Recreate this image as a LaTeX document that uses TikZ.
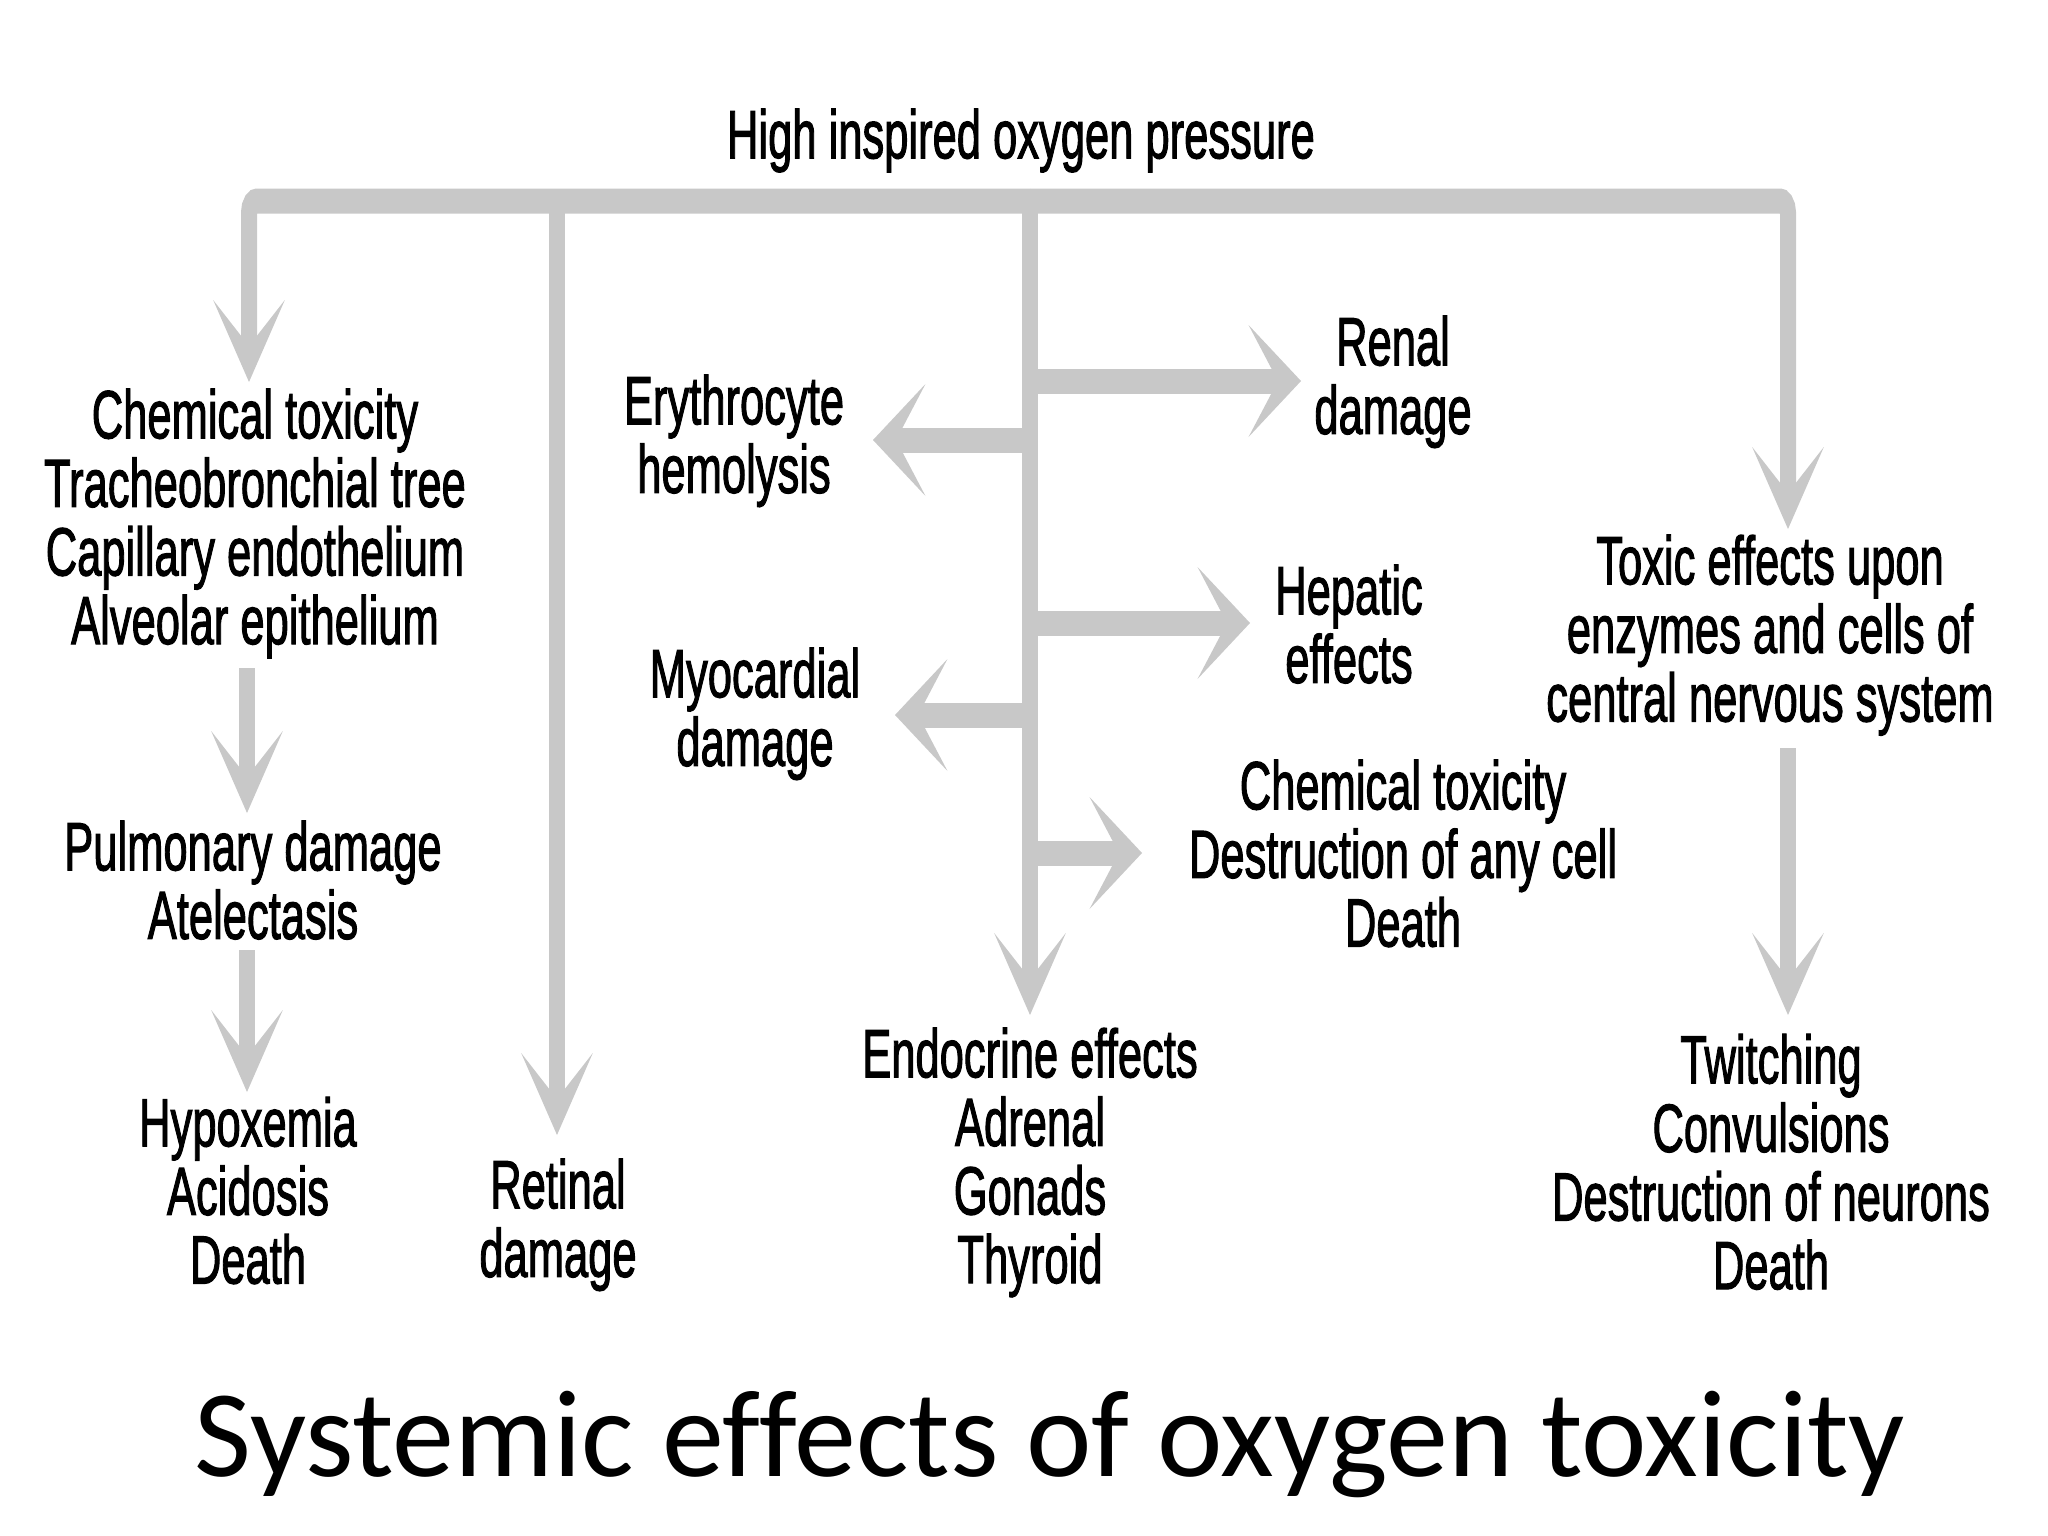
\documentclass[tikz,border=0pt]{standalone}
\usepackage{fontspec}
\usetikzlibrary{arrows.meta}
\newfontfamily\diagfont[FakeBold=2]{Liberation Sans}
\newfontfamily\capfont[Ligatures=NoCommon]{Carlito}
\definecolor{arrowgray}{RGB}{200,200,200}
\newcommand\mys{\rule{0pt}{52pt}}
\begin{document}
\begin{tikzpicture}[x=1pt,y=-1pt]
\useasboundingbox[fill=white] (0,0) rectangle (2048,1536);
\begin{scope}[x=1.5625pt, y=-1pt, transform canvas={xscale=0.64},
  conn/.style={draw=arrowgray, line width=25pt},
  tip/.style={-{Stealth[length=82pt,width=112pt,inset=46pt,line width=0pt]}},
  lbl/.style={anchor=north, inner sep=0pt, align=center, font=\diagfont\fontsize{68}{68.6}\selectfont}]
  % junctions and arrow ends
  \coordinate (jL) at (249,201);
  \coordinate (jR) at (1788,201);
  \coordinate (jRet) at (557,201);
  \coordinate (jC) at (1030,201);
  \coordinate (tA) at (249,382);
  \coordinate (tR) at (1788,529);
  \coordinate (tRet) at (557,1135);
  \coordinate (tC) at (1030,1015);
  \coordinate (bRen) at (1030,381);  \coordinate (tRen) at (1301,381);
  \coordinate (bEry) at (1030,440);  \coordinate (tEry) at (873,440);
  \coordinate (bHep) at (1030,623);  \coordinate (tHep) at (1250,623);
  \coordinate (bMyo) at (1030,715);  \coordinate (tMyo) at (895,715);
  \coordinate (bCell) at (1030,853); \coordinate (tCell) at (1142,853);
  \coordinate (sA) at (247,668);  \coordinate (tB) at (247,813);
  \coordinate (sB) at (247,950);  \coordinate (tC2) at (247,1092);
  \coordinate (sR) at (1788,748); \coordinate (tR2) at (1788,1015);
  % connectors
  \draw[conn, tip, rounded corners=12pt] (jC) -- (jL) -- (tA);
  \draw[conn, tip, rounded corners=12pt] (jC) -- (jR) -- (tR);
  \draw[conn, tip] (jRet) -- (tRet);
  \draw[conn, tip] (jC) -- (tC);
  \draw[conn, tip] (bRen) -- (tRen);
  \draw[conn, tip] (bEry) -- (tEry);
  \draw[conn, tip] (bHep) -- (tHep);
  \draw[conn, tip] (bMyo) -- (tMyo);
  \draw[conn, tip] (bCell) -- (tCell);
  \draw[conn, tip] (sA) -- (tB);
  \draw[conn, tip] (sB) -- (tC2);
  \draw[conn, tip] (sR) -- (tR2);
  % labels
  \node[lbl] (top) at (1021,106) {\mys High inspired oxygen pressure};
  \node[lbl] (chemA) at (255,386) {\mys Chemical toxicity\\Tracheobronchial tree\\Capillary endothelium\\Alveolar epithelium};
  \node[lbl] (pulm) at (253,818) {\mys Pulmonary damage\\Atelectasis};
  \node[lbl] (hypo) at (248,1094) {\mys Hypoxemia\\Acidosis\\Death};
  \node[lbl] (ret) at (558,1156) {\mys Retinal\\damage};
  \node[lbl] (ery) at (734,372) {\mys Erythrocyte\\hemolysis};
  \node[lbl] (myo) at (755,645) {\mys Myocardial\\damage};
  \node[lbl] (endo) at (1030,1025) {\mys Endocrine effects\\Adrenal\\Gonads\\Thyroid};
  \node[lbl] (renal) at (1393,313) {\mys Renal\\damage};
  \node[lbl] (hep) at (1349,562) {\mys Hepatic\\effects};
  \node[lbl] (cell) at (1403,757) {\mys Chemical toxicity\\Destruction of any cell\\Death};
  \node[lbl] (cns) at (1770,532) {\mys Toxic effects upon\\enzymes and cells of\\central nervous system};
  \node[lbl] (twitch) at (1771,1031) {\mys Twitching\\Convulsions\\Destruction of neurons\\Death};
\end{scope}
\node[anchor=base, inner sep=0pt, font=\capfont\fontsize{124}{124}\selectfont] (cap) at (1050,1476) {Systemic effects of oxygen toxicity};
\end{tikzpicture}
\end{document}
